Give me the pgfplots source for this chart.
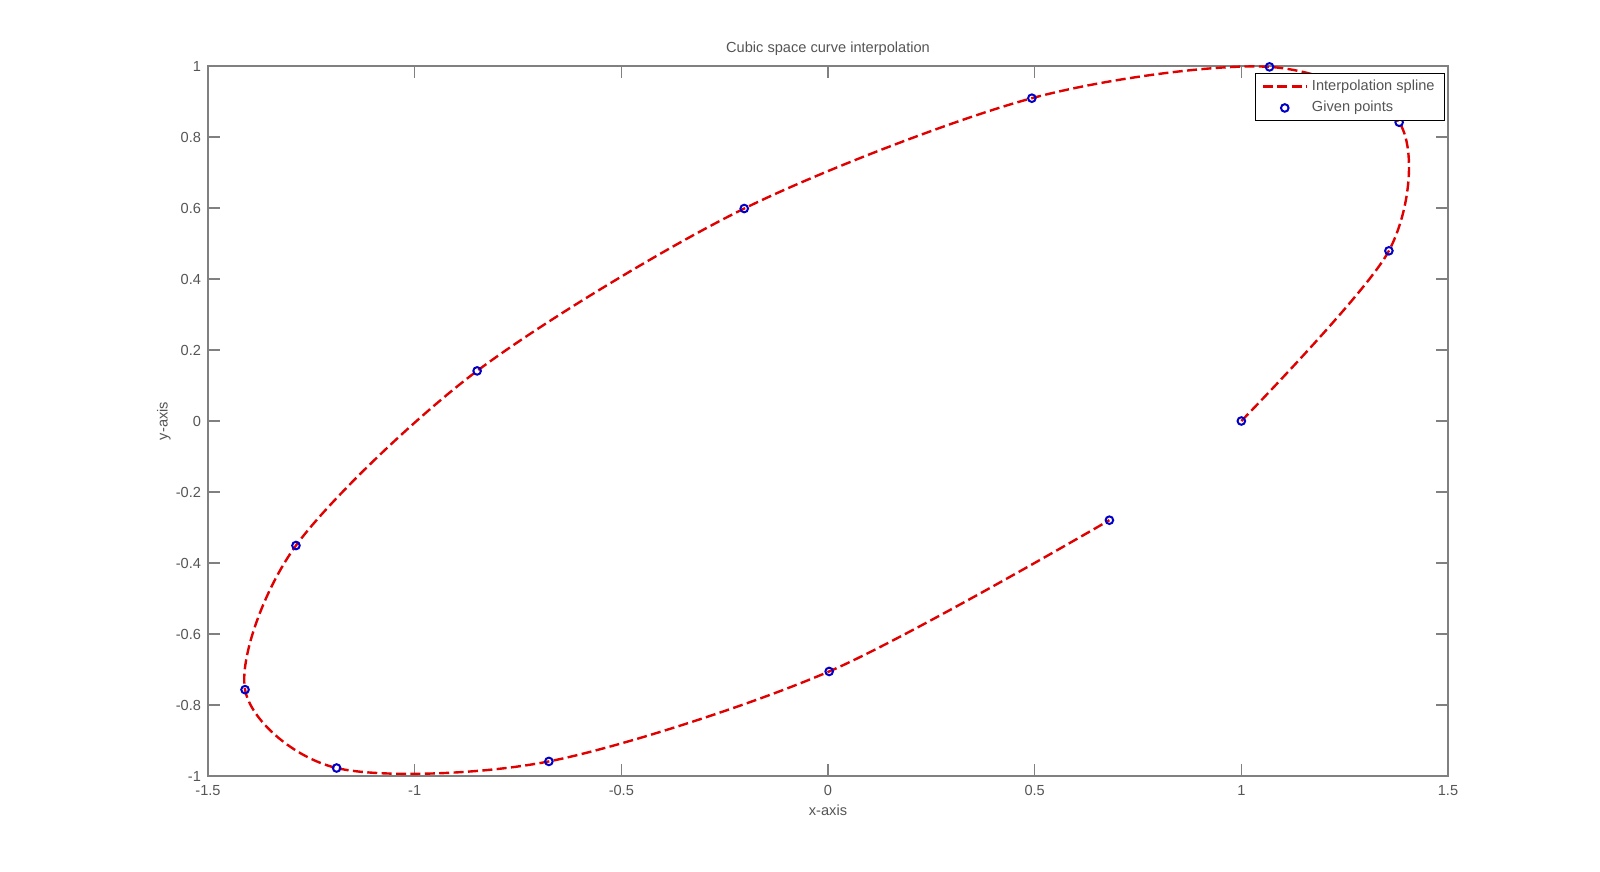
\documentclass[border=0pt]{standalone}
\usepackage{fontspec}
\setmainfont{Liberation Sans}
\usepackage{pgfplots}
\pgfplotsset{compat=1.18}
\definecolor{mred}{RGB}{225,0,0}
\definecolor{mblue}{RGB}{0,0,200}
\definecolor{axgray}{RGB}{128,128,128}
\definecolor{txtgray}{RGB}{85,85,85}
\newcommand{\ff}{\fontsize{7.3}{8.8}\selectfont}
\begin{document}
\begin{tikzpicture}
\path[use as bounding box] (-104pt,-48pt) rectangle (696pt,388pt);
\begin{axis}[
  at={(0,0)}, anchor=south west,
  width=620pt, height=355pt, scale only axis,
  xmin=-1.5, xmax=1.5, ymin=-1, ymax=1,
  xtick={-1.5,-1,-0.5,0,0.5,1,1.5},
  ytick={-1,-0.8,-0.6,-0.4,-0.2,0,0.2,0.4,0.6,0.8,1},
  axis line style={axgray, line width=0.8pt},
  tick style={axgray, line width=0.6pt},
  major tick length=6pt,
  tick align=inside,
  /pgf/number format/assume math mode=true,
  ticklabel style={font=\ff, text=txtgray},
  xticklabel style={yshift=-1pt},
  every axis title shift=0pt,
  title={Cubic space curve interpolation},
  title style={font=\ff, text=txtgray, at={(axis description cs:0.5,1.024)}, anchor=center},
  xlabel={x-axis}, ylabel={y-axis},
  every axis x label/.style={at={(axis description cs:0.5,-0.048)}, anchor=center, font=\ff, text=txtgray},
  every axis y label/.style={at={(axis description cs:-0.0355,0.5)}, rotate=90, anchor=center, font=\ff, text=txtgray},
  legend cell align=left,
  legend style={font=\ff, text=txtgray, draw=black, line width=0.5pt, fill=white,
    at={(axis description cs:0.9976,0.990)}, anchor=north east,
    inner xsep=3pt, inner ysep=1pt, row sep=0pt,
    /tikz/every even column/.append style={column sep=0pt}},
  legend image code/.code={\draw[mark repeat=2, mark phase=2, #1] plot coordinates {(0pt,0pt) (11pt,0pt) (22pt,0pt)};},
]
\addplot[mred, line width=1.2pt, dash pattern=on 5pt off 2.2pt, smooth] coordinates {
(1.0000, 0.0000)
(1.3570, 0.4794)
(1.3818, 0.8415)
(1.0682, 0.9975)
(0.4932, 0.9093)
(-0.2027, 0.5985)
(-0.8489, 0.1411)
(-1.2872, -0.3508)
(-1.4104, -0.7568)
(-1.1888, -0.9775)
(-0.6753, -0.9589)
(0.0028, -0.7055)
(0.6808, -0.2794)
};
\addlegendentry{Interpolation spline}
\addplot[only marks, mark=o, mark size=1.9pt, mark options={mblue, line width=1pt, solid}] coordinates {
(1.0000, 0.0000)
(1.3570, 0.4794)
(1.3818, 0.8415)
(1.0682, 0.9975)
(0.4932, 0.9093)
(-0.2027, 0.5985)
(-0.8489, 0.1411)
(-1.2872, -0.3508)
(-1.4104, -0.7568)
(-1.1888, -0.9775)
(-0.6753, -0.9589)
(0.0028, -0.7055)
(0.6808, -0.2794)
};
\addlegendentry{Given points}
\end{axis}
\end{tikzpicture}
\end{document}
